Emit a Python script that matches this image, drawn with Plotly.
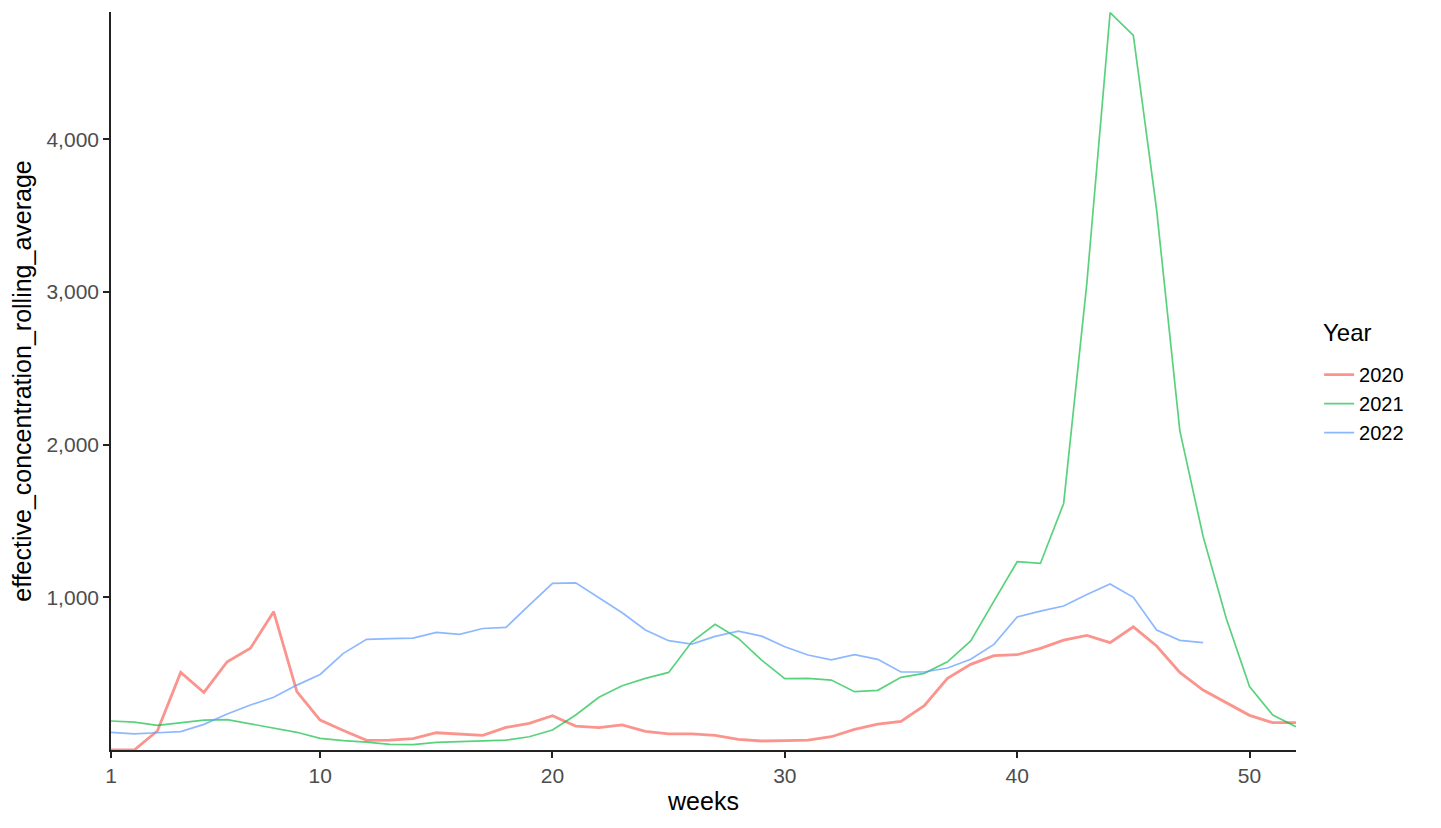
import plotly.graph_objs as go

weeks = list(range(1, 53))

conc_2020 = [0, 0, 126, 508, 377, 578, 666, 906, 382, 196,
             128, 63, 65, 74, 113, 105, 96, 148, 174, 225,
             157, 146, 164, 122, 105, 105, 96, 70, 59, 61,
             65, 87, 135, 170, 188, 290, 469, 561, 618, 624,
             666, 720, 751, 703, 807, 681, 508, 393, 310, 227,
             179, 179]

conc_2021 = [190, 183, 161, 177, 196, 199, 172, 144, 116, 76,
             61, 52, 37, 35, 50, 55, 61, 65, 87, 131,
             229, 345, 421, 469, 508, 709, 823, 731, 589, 467,
             469, 458, 382, 391, 476, 502, 578, 714, 975, 1233,
             1222, 1615, 3060, 4830, 4681, 3540, 2092, 1400, 862, 415,
             229, 153]

conc_2022 = [115, 105, 113, 120, 168, 236, 295, 345, 425, 495,
             633, 725, 729, 733, 770, 757, 796, 803, 949, 1091,
             1095, 997, 899, 786, 716, 694, 744, 779, 746, 676,
             622, 591, 624, 594, 511, 511, 537, 594, 692, 871,
             910, 943, 1019, 1087, 1000, 786, 718, 703]

years = ['2020', '2021', '2022']
colors = ['rgba(248,118,109,0.78)', 'rgba(0,186,56,0.65)', 'rgba(97,156,255,0.72)']
widths = [2.8, 1.7, 1.7]
series = [conc_2020, conc_2021, conc_2022]

fig = go.Figure()
for name, vals, col, w in zip(years, series, colors, widths):
    fig.add_trace(go.Scatter(x=weeks[:len(vals)], y=vals, name=name, mode='lines',
                             line=dict(color=col, width=w)))

axis_font = dict(family="Liberation Sans, Arial, sans-serif", size=21, color="#4D4D4D")
title_font = dict(family="Liberation Sans, Arial, sans-serif", size=25, color="black")

# the page has an 8px body margin, so margins are shifted to put the axes where the reference has them
fig.update_layout(
    width=1441, height=828,
    margin=dict(l=103, r=153, t=4, b=86),
    plot_bgcolor="white", paper_bgcolor="white",
    font=dict(family="Liberation Sans, Arial, sans-serif", color="black"),
    xaxis=dict(
        title=dict(text="weeks", font=title_font, standoff=6),
        range=[1, 52], tickvals=[1, 10, 20, 30, 40, 50],
        showgrid=False, zeroline=False,
        showline=True, linecolor="#222222", linewidth=1.6,
        ticks="outside", ticklen=6, tickwidth=1.6, tickcolor="#222222",
        tickfont=axis_font,
    ),
    yaxis=dict(
        title=dict(text="effective_concentration_rolling_average", font=title_font, standoff=10),
        range=[0, 4834], tickvals=[1000, 2000, 3000, 4000], tickformat=",",
        showgrid=False, zeroline=False,
        showline=True, linecolor="#222222", linewidth=1.6,
        ticks="outside", ticklen=6, tickwidth=1.6, tickcolor="#222222",
        tickfont=axis_font,
    ),
    legend=dict(
        font=dict(size=20, color="black"),
        x=1.0195, xanchor="left", y=0.535, yanchor="top",
        bgcolor="rgba(0,0,0,0)", tracegroupgap=0,
    ),
    annotations=[dict(text="Year", xref="paper", yref="paper", x=1.0215, y=0.566,
                      xanchor="left", yanchor="middle", showarrow=False,
                      font=dict(size=24, color="black"))],
    showlegend=True,
)

fig.write_html("out.html")
